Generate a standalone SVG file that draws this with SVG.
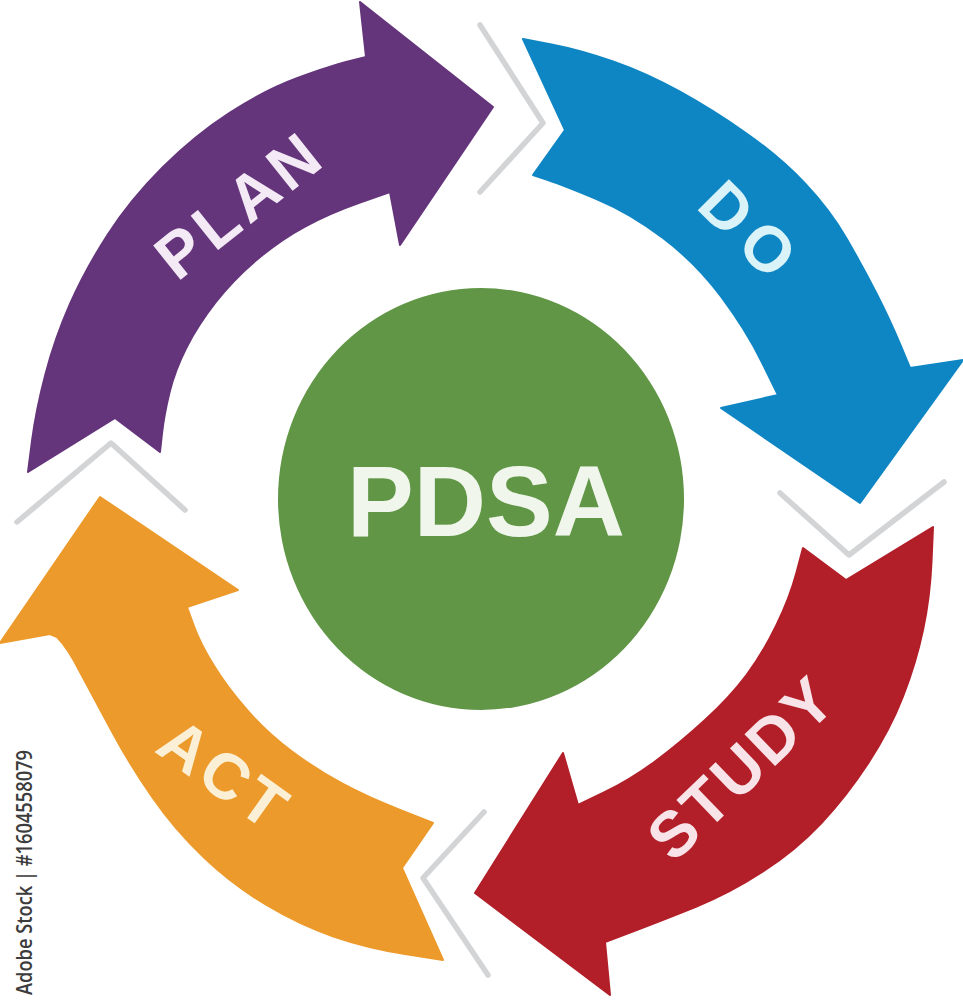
<svg xmlns="http://www.w3.org/2000/svg" width="963" height="1000" viewBox="0 0 963 1000">
<style>
.arrow{stroke-linejoin:round;stroke-width:2}
.lbl{font-family:"Liberation Sans",Arial,sans-serif;font-weight:bold;text-anchor:middle}
.chev{fill:none;stroke:#D3D4D6;stroke-width:5.5;stroke-linecap:round;stroke-linejoin:round}
</style>
<rect width="963" height="1000" fill="#FFFFFF"/>
<g id="connectors">
<polyline class="chev" points="480,25 543,123 480,192"/>
<polyline class="chev" points="780,493 849,555 944,482"/>
<polyline class="chev" points="484,812 423,878 488,975"/>
<polyline class="chev" points="17,522 111,443 185,510"/>
</g>
<g id="plan">
<path class="arrow" fill="#64357B" stroke="#64357B" d="M28,472 L32,441 Q36,410 45.5,374 Q55,338 70,304 Q85,270 107.5,235 Q130,200 162.5,167.5 Q195,135 230,112.5 Q265,90 297.5,78 Q330,66 348,61.5 L366,57 L360,2 L493,107 L400,245 L390,192 L360,202.5 Q330,213 305,226.5 Q280,240 256.5,260 Q233,280 215.5,302.5 Q198,325 186.5,347.5 Q175,370 169.5,392.5 Q164,415 162,433.5 L160,452 L115,418 Z"/>
<text class="lbl" fill="#F3EAF5" font-size="64" letter-spacing="5" transform="translate(239,204) rotate(-38.5)" x="0" y="23">PLAN</text>
</g>
<g id="do">
<path class="arrow" fill="#0F86C4" stroke="#0F86C4" d="M523,39 L551.5,44.5 Q580,50 613,61.5 Q646,73 679.5,91.5 Q713,110 746.5,133.5 Q780,157 805,183.5 Q830,210 846.5,238.5 Q863,267 876.5,293.5 Q890,320 900,344 L910,368 L963,360 L860,503 L721,408 L778,395 L762,362.5 Q746,330 721,296.5 Q696,263 663,238 Q630,213 596.5,199 Q563,185 548,180 L533,175 L565,130 Z"/>
<text class="lbl" fill="#D9F3F8" font-size="64" letter-spacing="10" transform="translate(752,232) rotate(45)" x="0" y="23">DO</text>
</g>
<g id="study">
<path class="arrow" fill="#B21F29" stroke="#B21F29" d="M933,527 L846,580 L803,548 L796.5,572.5 Q790,597 776.5,625 Q763,653 746.5,675 Q730,697 705,720 Q680,743 655,761.5 Q630,780 604,792.5 L578,805 L563,753 L475,893 L610,995 L605,942 L634,931 Q663,920 696.5,906.5 Q730,893 763,871.5 Q796,850 821,823.5 Q846,797 868,763.5 Q890,730 903,696.5 Q916,663 923,630 Q930,597 931.5,562 L933,527 Z"/>
<text class="lbl" fill="#F8E4E8" font-size="64" letter-spacing="3" transform="translate(741,767) rotate(-44)" x="0" y="23">STUDY</text>
</g>
<g id="act">
<path class="arrow" fill="#EC9A2B" stroke="#EC9A2B" d="M100,497 L238,590 L187,607 L193.5,625 Q200,643 213.5,665 Q227,687 247,710 Q267,733 292,751.5 Q317,770 342,783.5 Q367,797 400,810 L433,823 L402,868 L443,960 L405,954 Q367,948 333.5,936.5 Q300,925 266.5,905 Q233,885 204,857.5 Q175,830 152.5,797.5 Q130,765 112.5,732.5 Q95,700 80,672 Q68,648 57,637 L50,634 L0,643 Z"/>
<text class="lbl" fill="#FBF0D5" font-size="64" letter-spacing="4" transform="translate(225,774) rotate(35.5)" x="0" y="23">ACT</text>
</g>
<g id="pdsa">
<ellipse cx="481" cy="499" rx="203" ry="211" fill="#609645"/>
<text class="lbl" fill="#F0F6EC" font-size="100" x="486" y="536">PDSA</text>
</g>
<g id="credit">
<text font-family="'Open Sans','Liberation Sans',sans-serif" font-weight="600" font-size="22" fill="#3C3C3C" textLength="245" lengthAdjust="spacingAndGlyphs" transform="translate(32,995) rotate(-90)">Adobe Stock | #1604558079</text>
</g>
</svg>
